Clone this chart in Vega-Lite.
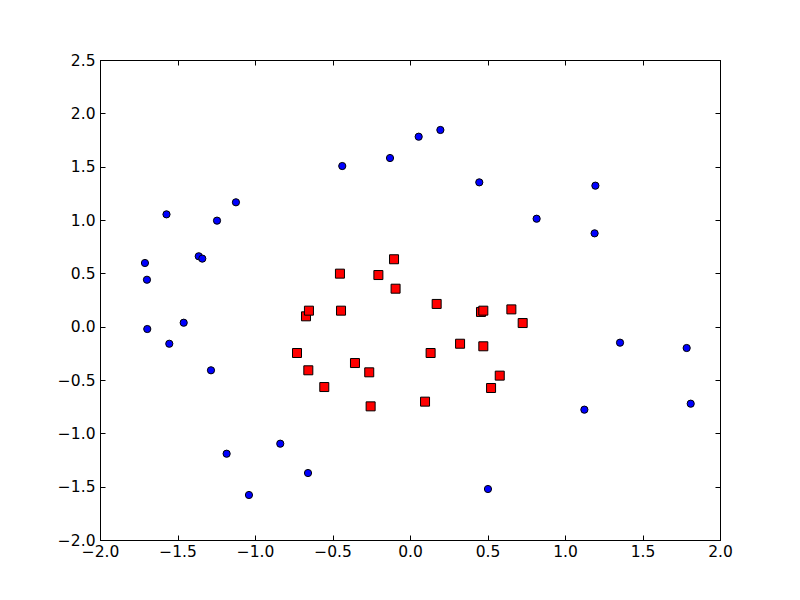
{
  "$schema": "https://vega.github.io/schema/vega-lite/v6.json",
  "width": 620,
  "height": 480,
  "autosize": {"type": "none"},
  "padding": {"left": 100, "top": 60, "right": 80, "bottom": 60},
  "background": "white",
  "config": {
    "view": {"stroke": "black", "strokeWidth": 1},
    "axis": {
      "grid": false,
      "domainColor": "black",
      "tickColor": "black",
      "tickSize": -5,
      "labelFont": "DejaVu Sans",
      "labelFontSize": 15.5,
      "labelColor": "black",
      "labelOverlap": false,
      "labelFlush": false,
      "labelBound": false,
      "title": null
    }
  },
  "data": {
    "values": [
      {"x": -1.571, "y": 1.053, "kind": "a"},
      {"x": -1.123, "y": 1.166, "kind": "a"},
      {"x": -1.245, "y": 0.994, "kind": "a"},
      {"x": -1.363, "y": 0.660, "kind": "a"},
      {"x": -1.340, "y": 0.638, "kind": "a"},
      {"x": -1.710, "y": 0.597, "kind": "a"},
      {"x": -1.697, "y": 0.440, "kind": "a"},
      {"x": -1.695, "y": -0.022, "kind": "a"},
      {"x": -1.460, "y": 0.037, "kind": "a"},
      {"x": -1.553, "y": -0.160, "kind": "a"},
      {"x": -1.284, "y": -0.409, "kind": "a"},
      {"x": -0.837, "y": -1.097, "kind": "a"},
      {"x": -1.183, "y": -1.191, "kind": "a"},
      {"x": -1.039, "y": -1.578, "kind": "a"},
      {"x": -0.658, "y": -1.372, "kind": "a"},
      {"x": -0.437, "y": 1.506, "kind": "a"},
      {"x": -0.129, "y": 1.581, "kind": "a"},
      {"x": 0.056, "y": 1.781, "kind": "a"},
      {"x": 0.196, "y": 1.844, "kind": "a"},
      {"x": 0.447, "y": 1.353, "kind": "a"},
      {"x": 1.196, "y": 1.322, "kind": "a"},
      {"x": 0.817, "y": 1.012, "kind": "a"},
      {"x": 1.191, "y": 0.875, "kind": "a"},
      {"x": 1.355, "y": -0.150, "kind": "a"},
      {"x": 1.785, "y": -0.200, "kind": "a"},
      {"x": 1.811, "y": -0.722, "kind": "a"},
      {"x": 1.125, "y": -0.778, "kind": "a"},
      {"x": 0.503, "y": -1.522, "kind": "a"},
      {"x": -0.103, "y": 0.632, "kind": "b"},
      {"x": -0.452, "y": 0.497, "kind": "b"},
      {"x": -0.204, "y": 0.484, "kind": "b"},
      {"x": -0.093, "y": 0.356, "kind": "b"},
      {"x": 0.172, "y": 0.213, "kind": "b"},
      {"x": -0.671, "y": 0.097, "kind": "b"},
      {"x": -0.652, "y": 0.150, "kind": "b"},
      {"x": -0.445, "y": 0.150, "kind": "b"},
      {"x": 0.458, "y": 0.138, "kind": "b"},
      {"x": 0.473, "y": 0.150, "kind": "b"},
      {"x": 0.654, "y": 0.162, "kind": "b"},
      {"x": 0.727, "y": 0.034, "kind": "b"},
      {"x": -0.729, "y": -0.247, "kind": "b"},
      {"x": 0.133, "y": -0.247, "kind": "b"},
      {"x": 0.323, "y": -0.160, "kind": "b"},
      {"x": 0.473, "y": -0.184, "kind": "b"},
      {"x": -0.656, "y": -0.409, "kind": "b"},
      {"x": -0.355, "y": -0.341, "kind": "b"},
      {"x": -0.263, "y": -0.428, "kind": "b"},
      {"x": -0.553, "y": -0.566, "kind": "b"},
      {"x": -0.254, "y": -0.747, "kind": "b"},
      {"x": 0.097, "y": -0.703, "kind": "b"},
      {"x": 0.579, "y": -0.459, "kind": "b"},
      {"x": 0.523, "y": -0.575, "kind": "b"}
    ]
  },
  "layer": [
    {
      "transform": [{"filter": "datum.kind === 'a'"}],
      "mark": {"type": "point", "shape": "circle", "filled": true, "fill": "#0000ff", "stroke": "black", "strokeWidth": 1, "size": 52, "opacity": 1},
      "encoding": {
        "x": {"field": "x", "type": "quantitative", "scale": {"domain": [-2, 2], "nice": false, "zero": false},
              "axis": {"orient": "bottom", "values": [-2, -1.5, -1, -0.5, 0, 0.5, 1, 1.5, 2], "format": ".1f", "labelPadding": 9}},
        "y": {"field": "y", "type": "quantitative", "scale": {"domain": [-2, 2.5], "nice": false, "zero": false},
              "axis": {"orient": "left", "values": [-2, -1.5, -1, -0.5, 0, 0.5, 1, 1.5, 2, 2.5], "format": ".1f", "labelPadding": 10}}
      }
    },
    {
      "transform": [{"filter": "datum.kind === 'b'"}],
      "mark": {"type": "point", "shape": "square", "filled": true, "fill": "#ff0000", "stroke": "black", "strokeWidth": 1, "size": 81, "opacity": 1},
      "encoding": {
        "x": {"field": "x", "type": "quantitative", "scale": {"domain": [-2, 2], "nice": false, "zero": false},
              "axis": {"orient": "top", "values": [-2, -1.5, -1, -0.5, 0, 0.5, 1, 1.5, 2], "labels": false}},
        "y": {"field": "y", "type": "quantitative", "scale": {"domain": [-2, 2.5], "nice": false, "zero": false},
              "axis": {"orient": "right", "values": [-2, -1.5, -1, -0.5, 0, 0.5, 1, 1.5, 2, 2.5], "labels": false}}
      }
    }
  ],
  "resolve": {"axis": {"x": "independent", "y": "independent"}}
}
